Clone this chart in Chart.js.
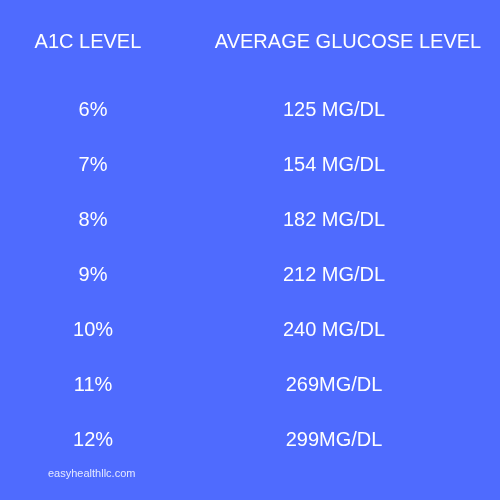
<!DOCTYPE html>
<html><head><meta charset="utf-8">
<script src="https://cdn.jsdelivr.net/npm/chart.js@4"></script>
<style>html,body{margin:0;padding:0;background:#4f6bfe}#w{width:500px;height:500px}</style>
</head><body><div id="w"><canvas id="c"></canvas></div>
<script>
const headers = ["A1C LEVEL", "AVERAGE GLUCOSE LEVEL"];
const headerCols = [-0.02, 1.0];
const a1cLevels = ["6%", "7%", "8%", "9%", "10%", "11%", "12%"];
const glucoseLevels = ["125 MG/DL", "154 MG/DL", "182 MG/DL", "212 MG/DL", "240 MG/DL", "269MG/DL", "299MG/DL"];
const footer = "easyhealthllc.com";

const rows = a1cLevels.map((_, i) => i + 1);
const textPlugin = {
  id: 'tableText',
  afterDatasetsDraw(chart) {
    const ctx = chart.ctx, xs = chart.scales.x, ys = chart.scales.y;
    ctx.save();
    ctx.fillStyle = '#ffffff';
    ctx.textAlign = 'center';
    ctx.textBaseline = 'middle';
    ctx.font = '20px "Liberation Sans", Arial, sans-serif';
    headers.forEach((h, c) => ctx.fillText(h, xs.getPixelForValue(headerCols[c]), ys.getPixelForValue(-0.22)));
    chart.data.datasets.forEach((ds) => {
      ds.data.forEach((p, i) => ctx.fillText(ds.labels[i], xs.getPixelForValue(p.x), ys.getPixelForValue(p.y)));
    });
    ctx.font = '11px "Liberation Sans", Arial, sans-serif';
    ctx.textAlign = 'left';
    ctx.fillStyle = 'rgba(255,255,255,0.85)';
    ctx.fillText(footer, 48, 474);
    ctx.restore();
  }
};
new Chart(document.getElementById('c'), {
  type: 'scatter',
  data: { datasets: [
    { labels: a1cLevels, data: rows.map(r => ({x: 0, y: r})), pointRadius: 0 },
    { labels: glucoseLevels, data: rows.map(r => ({x: 0.945, y: r})), pointRadius: 0 }
  ]},
  options: {
    responsive: true, maintainAspectRatio: false, animation: false,
    layout: { padding: 0 },
    plugins: { legend: { display: false }, tooltip: { enabled: false } },
    scales: {
      x: { type: 'linear', display: false, min: -0.365, max: 1.596 },
      y: { type: 'linear', display: false, reverse: true, min: -1.0, max: 8.091 }
    }
  },
  plugins: [textPlugin]
});
</script></body></html>
